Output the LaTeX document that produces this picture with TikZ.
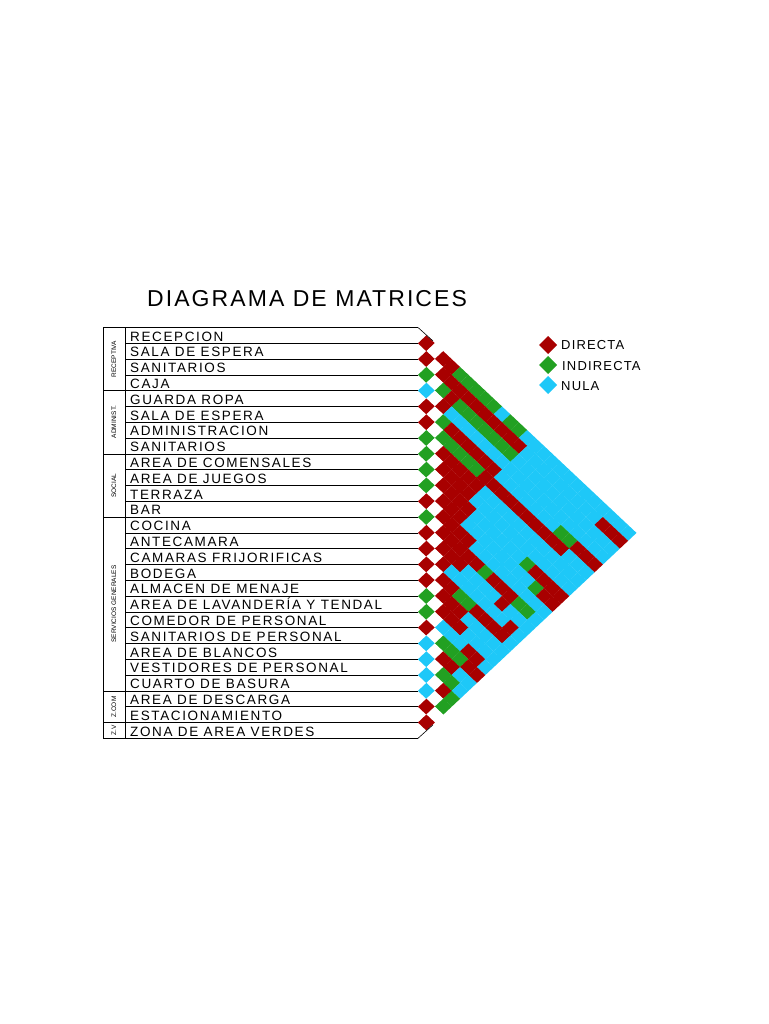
\documentclass[tikz,border=0pt]{standalone}
\usepackage{fontspec}
\setmainfont{Liberation Sans}
\newfontfamily\lblfont[LetterSpace=12]{Liberation Sans}
\newfontfamily\ttlfont[LetterSpace=9]{Liberation Sans}
\definecolor{R}{HTML}{A80000}
\definecolor{G}{HTML}{22A022}
\definecolor{C}{HTML}{1EC8F8}
\definecolor{W}{HTML}{FFFFFF}
\tikzset{cellbox/.style={draw=none},
  rowlbl/.style={anchor=base west,inner sep=0,font=\lblfont\fontsize{13.5}{13.5}\selectfont},
  grplbl/.style={rotate=90,inner sep=0,font=\fontsize{6.5}{7}\selectfont},
  leg/.style={anchor=west,inner sep=0,font=\ttlfont\fontsize{13}{13}\selectfont}}
\begin{document}
\begin{tikzpicture}[x=1pt,y=-1pt]
\useasboundingbox (0,0) rectangle (768,1024);
% matrix cells
\foreach \i/\row in {
0/{R,W,R,R,G,G,G,G,G,C,G,G,C,C,C,C,C,C,C,C,C,C,C,C,C},
1/{R,W,R,R,R,R,R,R,R,R,R,R,C,C,C,C,C,C,C,C,C,R,R,R},
2/{G,W,G,R,G,G,G,G,G,G,G,C,C,C,C,C,C,C,C,C,C,C,C},
3/{C,W,R,C,C,C,C,C,C,C,C,C,C,C,C,C,C,C,C,C,C,C},
4/{R,W,G,R,R,R,R,R,R,C,C,C,C,C,C,C,G,G,R,R,R},
5/{R,W,G,G,G,G,G,R,R,R,R,R,R,R,R,R,R,C,C,C},
6/{G,W,R,R,R,R,R,C,C,C,C,C,C,C,C,C,C,C,C},
7/{G,W,R,R,R,R,C,C,C,C,C,C,C,C,C,C,C,C},
8/{G,W,R,R,R,R,C,C,C,C,C,C,G,R,R,R,R},
9/{G,W,R,R,R,C,C,C,C,C,C,C,C,G,R,R},
10/{R,W,R,R,R,R,C,C,C,C,C,C,C,C,C},
11/{G,W,R,R,R,R,R,G,R,R,R,G,G,C},
12/{R,W,R,R,R,C,C,C,C,R,C,C,C},
13/{R,W,R,C,C,C,C,C,C,C,R,C},
14/{R,W,R,R,G,G,R,R,R,R,C},
15/{R,W,R,R,R,C,C,C,C,C},
16/{G,W,R,R,R,C,C,C,C},
17/{G,W,C,C,C,R,R,C},
18/{R,W,G,G,G,R,R},
19/{C,W,R,R,C,C},
20/{C,W,G,G,C},
21/{C,W,R,G},
22/{C,W,G},
23/{R,W},
24/{R}}{
  \foreach \c [count=\d] in \row {
    \pgfmathsetmacro\cx{418+8.4*\d}
    \pgfmathsetmacro\cy{327.5+7.9*(2*\i+\d+1)}
    \fill[\c,cellbox] (\cx-8.5,\cy) -- (\cx,\cy-8) -- (\cx+8.5,\cy) -- (\cx,\cy+8) -- cycle;
  }
}
% table lines
\foreach \k in {0,...,26} {\draw[line width=0.6pt] (125,327.5+15.8*\k) -- (418,327.5+15.8*\k);}
\draw[line width=0.6pt] (418,327.5) -- (433,341);
\draw[line width=0.6pt] (418,738.3) -- (433,724.8);
\draw[line width=0.6pt] (103,327.5) -- (103,738.3) -- (125,738.3) (103,327.5) -- (125,327.5);
\draw[line width=0.6pt] (125,327.5) -- (125,738.3);
\foreach \k in {4,8,12,23,25} {\draw[line width=0.6pt] (103,327.5+15.8*\k) -- (125,327.5+15.8*\k);}
% group labels
\node[grplbl] (g1) at (114,359) {RECEPTIVA};
\node[grplbl] (g2) at (114,422) {ADMINIST.};
\node[grplbl] (g3) at (114,485.5) {SOCIAL};
\node[grplbl] (g4) at (114,604) {SERVICIOS GENERALES};
\node[grplbl] (g5) at (114,707) {Z.COM};
\node[grplbl] (g6) at (114,730.5) {Z.V};
% row labels
\foreach \t [count=\n from 0] in {RECEPCION,SALA DE ESPERA,SANITARIOS,CAJA,GUARDA ROPA,SALA DE ESPERA,ADMINISTRACION,SANITARIOS,AREA DE COMENSALES,AREA DE JUEGOS,TERRAZA,BAR,COCINA,ANTECAMARA,CAMARAS FRIJORIFICAS,BODEGA,ALMACEN DE MENAJE,AREA DE LAVANDERÍA Y TENDAL,COMEDOR DE PERSONAL,SANITARIOS DE PERSONAL,AREA DE BLANCOS,VESTIDORES DE PERSONAL,CUARTO DE BASURA,AREA DE DESCARGA,ESTACIONAMIENTO,ZONA DE AREA VERDES} {
  \node[rowlbl] (r\n) at (130,341+15.8*\n) {\t};
}
% title
\node[anchor=base west,inner sep=0,font=\ttlfont\fontsize{23}{23}\selectfont] (title) at (147,306) {DIAGRAMA DE MATRICES};
% legend
\fill[R] (539,345) -- (548,336) -- (557,345) -- (548,354) -- cycle;
\fill[G] (539,365) -- (548,356) -- (557,365) -- (548,374) -- cycle;
\fill[C] (539,385) -- (548,376) -- (557,385) -- (548,394) -- cycle;
\node[leg] (l1) at (561,345) {DIRECTA};
\node[leg] (l2) at (562,366) {INDIRECTA};
\node[leg] (l3) at (561,386) {NULA};
\end{tikzpicture}
\end{document}
